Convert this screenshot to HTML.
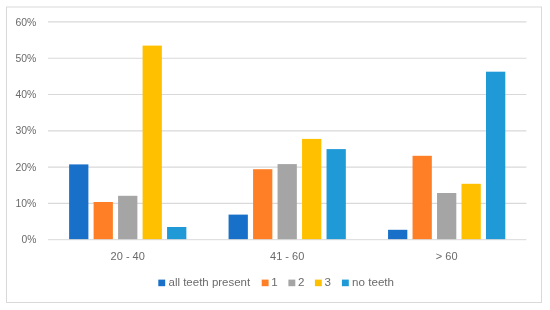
<!DOCTYPE html>
<html><head><meta charset="utf-8"><title>chart</title>
<style>
html,body{margin:0;padding:0;background:#fff;}
body{width:550px;height:310px;overflow:hidden;}
svg{display:block;}
text{font-family:"Liberation Sans",sans-serif;font-size:11px;fill:#6a6a6a;}
</style></head><body>
<svg width="550" height="310" viewBox="0 0 550 310">
<rect x="0" y="0" width="550" height="310" fill="#ffffff"/>
<rect x="6.5" y="7" width="535" height="295.5" fill="#ffffff" stroke="#d9d9d9" stroke-width="1"/>
<line x1="48.0" y1="203.40" x2="526.4" y2="203.40" stroke="#d9d9d9" stroke-width="1.15"/>
<line x1="48.0" y1="167.10" x2="526.4" y2="167.10" stroke="#d9d9d9" stroke-width="1.15"/>
<line x1="48.0" y1="130.80" x2="526.4" y2="130.80" stroke="#d9d9d9" stroke-width="1.15"/>
<line x1="48.0" y1="94.50" x2="526.4" y2="94.50" stroke="#d9d9d9" stroke-width="1.15"/>
<line x1="48.0" y1="58.20" x2="526.4" y2="58.20" stroke="#d9d9d9" stroke-width="1.15"/>
<line x1="48.0" y1="21.90" x2="526.4" y2="21.90" stroke="#d9d9d9" stroke-width="1.15"/>
<rect x="69.11" y="164.40" width="19.28" height="75.30" fill="#1970c8"/>
<rect x="93.60" y="202.00" width="19.28" height="37.70" fill="#ff7f27"/>
<rect x="118.09" y="195.80" width="19.28" height="43.90" fill="#a5a5a5"/>
<rect x="142.58" y="45.60" width="19.28" height="194.10" fill="#ffc000"/>
<rect x="167.07" y="227.00" width="19.28" height="12.70" fill="#1f9ad7"/>
<rect x="228.58" y="214.60" width="19.28" height="25.10" fill="#1970c8"/>
<rect x="253.07" y="169.20" width="19.28" height="70.50" fill="#ff7f27"/>
<rect x="277.56" y="164.10" width="19.28" height="75.60" fill="#a5a5a5"/>
<rect x="302.05" y="138.90" width="19.28" height="100.80" fill="#ffc000"/>
<rect x="326.54" y="149.10" width="19.28" height="90.60" fill="#1f9ad7"/>
<rect x="388.05" y="229.80" width="19.28" height="9.90" fill="#1970c8"/>
<rect x="412.54" y="155.80" width="19.28" height="83.90" fill="#ff7f27"/>
<rect x="437.03" y="193.00" width="19.28" height="46.70" fill="#a5a5a5"/>
<rect x="461.51" y="183.80" width="19.28" height="55.90" fill="#ffc000"/>
<rect x="486.00" y="71.70" width="19.28" height="168.00" fill="#1f9ad7"/>
<line x1="48.0" y1="239.70" x2="526.4" y2="239.70" stroke="#d9d9d9" stroke-width="1"/>
<text x="21.50" y="243.35" textLength="14.9" lengthAdjust="spacingAndGlyphs" style="font-size:11.5px">0%</text>
<text x="15.50" y="207.05" textLength="20.9" lengthAdjust="spacingAndGlyphs" style="font-size:11.5px">10%</text>
<text x="15.50" y="170.75" textLength="20.9" lengthAdjust="spacingAndGlyphs" style="font-size:11.5px">20%</text>
<text x="15.50" y="134.45" textLength="20.9" lengthAdjust="spacingAndGlyphs" style="font-size:11.5px">30%</text>
<text x="15.50" y="98.15" textLength="20.9" lengthAdjust="spacingAndGlyphs" style="font-size:11.5px">40%</text>
<text x="15.50" y="61.85" textLength="20.9" lengthAdjust="spacingAndGlyphs" style="font-size:11.5px">50%</text>
<text x="15.50" y="25.55" textLength="20.9" lengthAdjust="spacingAndGlyphs" style="font-size:11.5px">60%</text>
<text x="127.73" y="259.6" text-anchor="middle">20 - 40</text>
<text x="287.20" y="259.6" text-anchor="middle">41 - 60</text>
<text x="446.67" y="259.6" text-anchor="middle">&gt; 60</text>
<rect x="158.30" y="279.6" width="6.9" height="6.6" fill="#1970c8"/>
<text x="168.50" y="286.3" textLength="81.7" lengthAdjust="spacingAndGlyphs" style="font-size:11.6px">all teeth present</text>
<rect x="261.70" y="279.6" width="6.9" height="6.6" fill="#ff7f27"/>
<text x="271.20" y="286.3" style="font-size:11.6px">1</text>
<rect x="288.40" y="279.6" width="6.9" height="6.6" fill="#a5a5a5"/>
<text x="297.90" y="286.3" style="font-size:11.6px">2</text>
<rect x="314.90" y="279.6" width="6.9" height="6.6" fill="#ffc000"/>
<text x="324.40" y="286.3" style="font-size:11.6px">3</text>
<rect x="341.90" y="279.6" width="6.9" height="6.6" fill="#1f9ad7"/>
<text x="352.10" y="286.3" textLength="41.9" lengthAdjust="spacingAndGlyphs" style="font-size:11.6px">no teeth</text>
</svg>
</body></html>
